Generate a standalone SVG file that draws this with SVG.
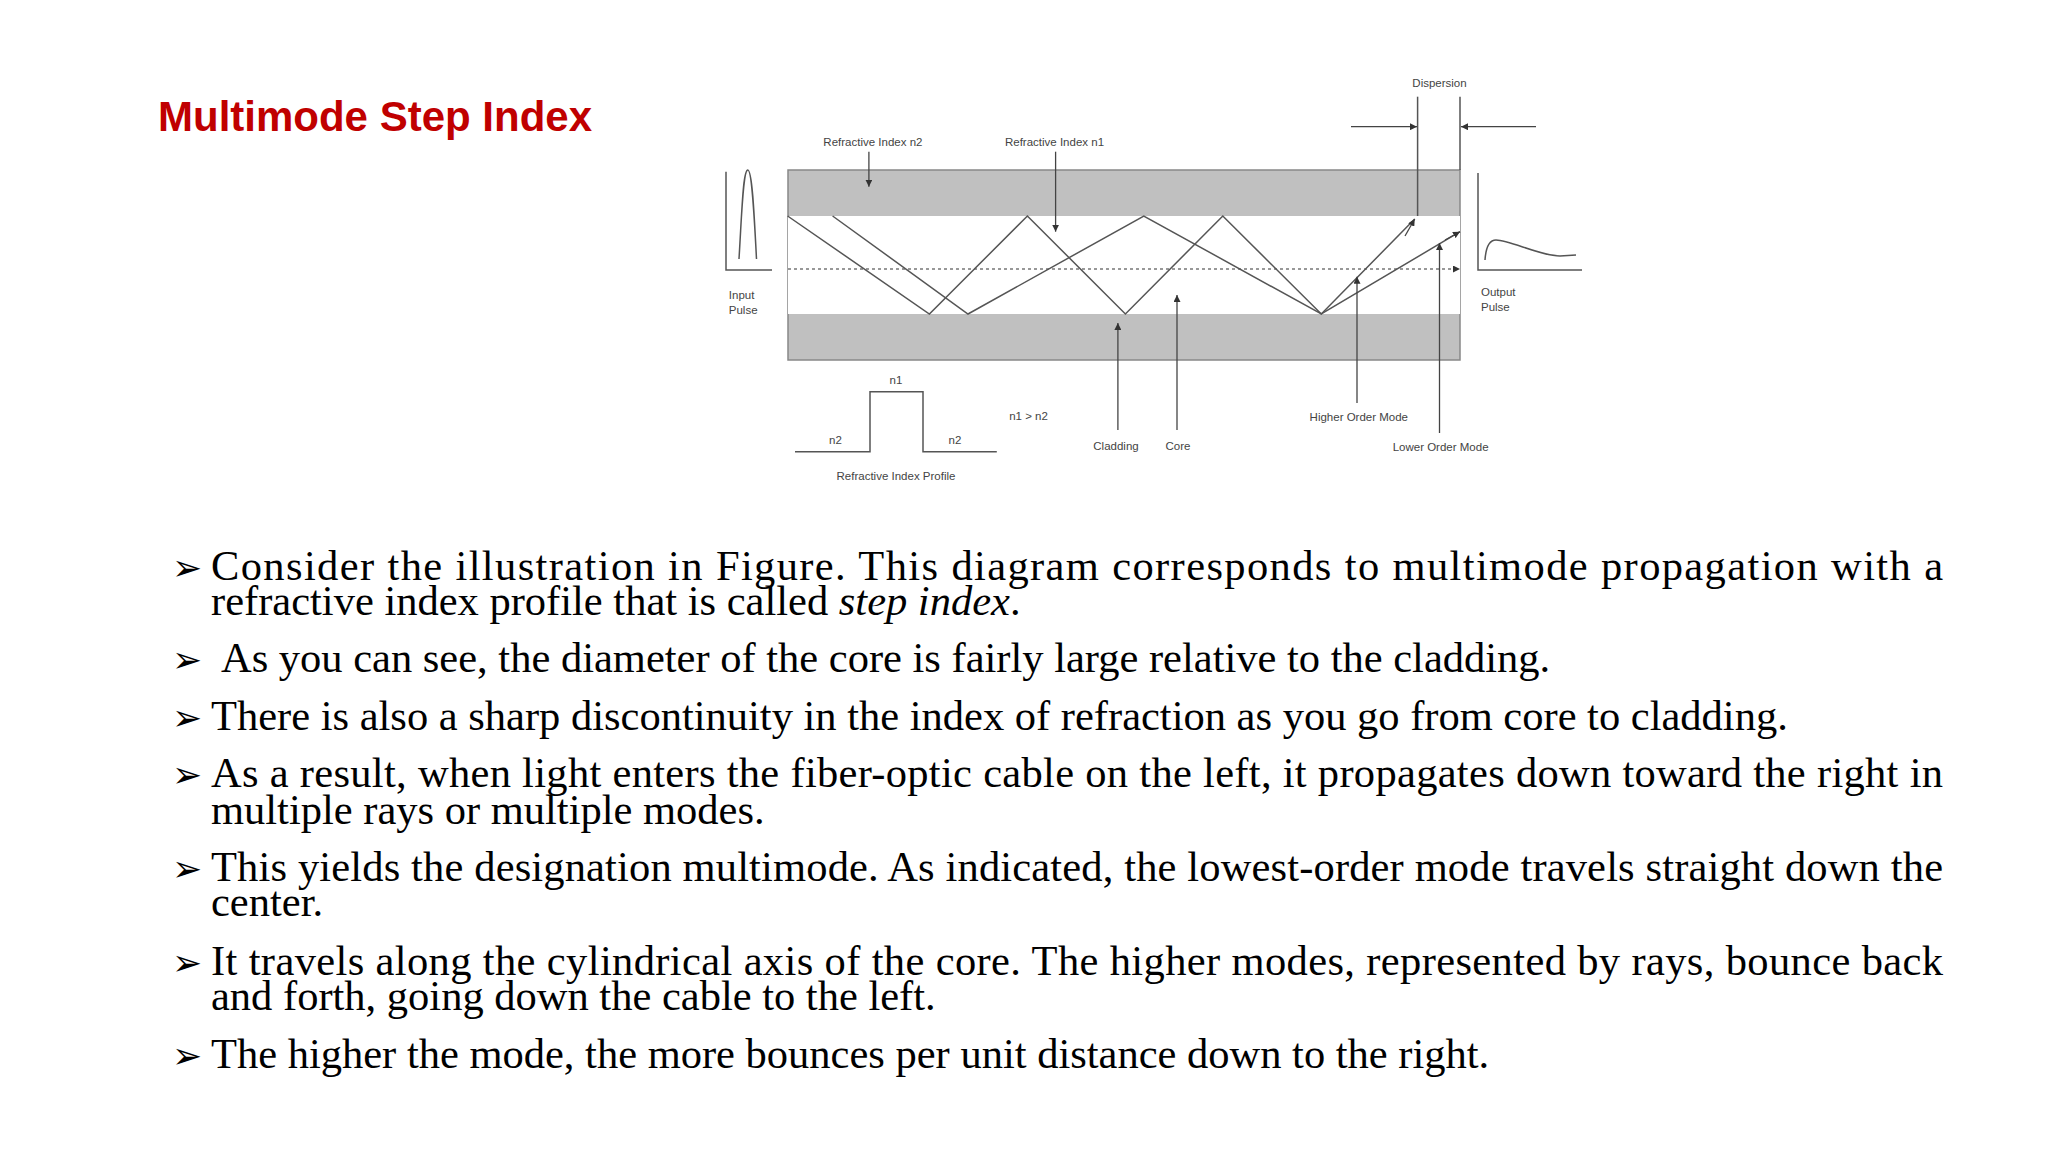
<svg xmlns="http://www.w3.org/2000/svg" width="2048" height="1152" viewBox="0 0 2048 1152">
<defs>
<marker id="ah" viewBox="0 0 10 10" refX="10" refY="5" markerWidth="7" markerHeight="7" markerUnits="userSpaceOnUse" orient="auto"><path d="M0,0 L10,5 L0,10 z" fill="#333"/></marker>
<style>
.lab{font-family:"Liberation Sans",Arial,sans-serif;font-size:11.5px;fill:#444;text-anchor:middle}
.lab2{font-family:"Liberation Sans",Arial,sans-serif;font-size:11.5px;fill:#444}
.ln{stroke:#555;stroke-width:1.5;fill:none}
.ar{stroke:#444;stroke-width:1.3;fill:none;marker-end:url(#ah)}
.body{font-family:"Liberation Serif","Times New Roman",serif;font-size:42.5px;fill:#000}
.bul{font-family:"DejaVu Sans",sans-serif;font-size:36px;font-weight:bold;fill:#000}
</style>
</defs>
<rect width="2048" height="1152" fill="#fff"/>
<text id="title" x="158" y="131" font-family="Liberation Sans,Arial,sans-serif" font-weight="bold" font-size="42" fill="#c00000">Multimode Step Index</text>
<g id="fiber">
<rect x="788" y="170" width="672" height="190" fill="#c0c0c0" stroke="#888" stroke-width="1.5"/>
<rect x="788" y="216" width="672" height="98" fill="#fff"/>
<line x1="788" y1="269" x2="1460" y2="269" stroke="#777" stroke-width="1.5" stroke-dasharray="3,3" marker-end="url(#ah)"/>
</g>
<g id="rays">
<polyline class="ln" points="787.6,216 929.4,314 1027.4,216 1125.4,314 1222.8,216 1321.3,314 1414.7,219"/>
<polyline class="ln" points="832.6,216 968,314 1143.8,216 1321.3,314 1460,231.7"/>
<line class="ar" x1="1405" y1="236" x2="1414.7" y2="219"/>
<line class="ar" x1="1445" y1="240" x2="1460" y2="231.7"/>
</g>
<g id="connectors">
<line class="ar" x1="868.9" y1="151.7" x2="868.9" y2="186.7"/>
<line class="ar" x1="1055.6" y1="151.7" x2="1055.6" y2="231.7"/>
<line class="ln" x1="1417.6" y1="96.7" x2="1417.6" y2="216"/>
<line class="ln" x1="1460" y1="96.7" x2="1460" y2="170"/>
<line class="ar" x1="1351" y1="126.7" x2="1417" y2="126.7"/>
<line class="ar" x1="1536" y1="126.7" x2="1461" y2="126.7"/>
<line class="ar" x1="1117.9" y1="430" x2="1117.9" y2="323"/>
<line class="ar" x1="1177" y1="430" x2="1177" y2="295"/>
<line class="ar" x1="1357" y1="403" x2="1357" y2="276.7"/>
<line class="ar" x1="1439.5" y1="433" x2="1439.5" y2="243"/>
</g>
<g id="input-pulse">
<polyline class="ln" points="726,171.7 726,270 772,270"/>
<path class="ln" d="M739,259 C742,210 743,170 747.8,170 C752,170 754,210 756.5,259"/>
<text class="lab2" x="728.8" y="299">Input</text>
<text class="lab2" x="728.8" y="314">Pulse</text>
</g>
<g id="output-pulse">
<polyline class="ln" points="1478,173 1478,270 1582,270"/>
<path class="ln" d="M1485,260 C1486,245 1490,240 1496,240 C1510,240 1540,256 1560,256 L1576,255"/>
<text class="lab2" x="1481" y="296">Output</text>
<text class="lab2" x="1481" y="311">Pulse</text>
</g>
<g id="profile">
<polyline class="ln" points="795,451.7 870,451.7 870,391.7 923,391.7 923,451.7 996.8,451.7"/>
<text class="lab" x="896" y="384">n1</text>
<text class="lab" x="835.4" y="444">n2</text>
<text class="lab" x="955" y="444">n2</text>
<text class="lab" x="896" y="480">Refractive Index Profile</text>
<text class="lab" x="1028.5" y="420">n1 &gt; n2</text>
</g>
<g id="labels">
<text class="lab" x="1439.5" y="87">Dispersion</text>
<text class="lab" x="872.9" y="146">Refractive Index n2</text>
<text class="lab" x="1054.5" y="146">Refractive Index n1</text>
<text class="lab" x="1116" y="450">Cladding</text>
<text class="lab" x="1178" y="450">Core</text>
<text class="lab" x="1358.8" y="421">Higher Order Mode</text>
<text class="lab" x="1440.6" y="451">Lower Order Mode</text>
</g>
<g id="bullets">
<text class="bul" x="172" y="580">➢</text>
<text class="bul" x="172" y="672">➢</text>
<text class="bul" x="172" y="730">➢</text>
<text class="bul" x="172" y="787">➢</text>
<text class="bul" x="172" y="881">➢</text>
<text class="bul" x="172" y="975">➢</text>
<text class="bul" x="172" y="1068">➢</text>
<text class="body" x="211" y="580" textLength="1732" lengthAdjust="spacing">Consider the illustration in Figure. This diagram corresponds to multimode propagation with a</text>
<text class="body" x="211" y="615">refractive index profile that is called <tspan font-style="italic">step index</tspan>.</text>
<text class="body" x="221" y="672">As you can see, the diameter of the core is fairly large relative to the cladding.</text>
<text class="body" x="211" y="730">There is also a sharp discontinuity in the index of refraction as you go from core to cladding.</text>
<text class="body" x="211" y="787" textLength="1732" lengthAdjust="spacing">As a result, when light enters the fiber-optic cable on the left, it propagates down toward the right in</text>
<text class="body" x="211" y="824">multiple rays or multiple modes.</text>
<text class="body" x="211" y="881" textLength="1732" lengthAdjust="spacing">This yields the designation multimode. As indicated, the lowest-order mode travels straight down the</text>
<text class="body" x="211" y="916">center.</text>
<text class="body" x="211" y="975" textLength="1732" lengthAdjust="spacing">It travels along the cylindrical axis of the core. The higher modes, represented by rays, bounce back</text>
<text class="body" x="211" y="1010">and forth, going down the cable to the left.</text>
<text class="body" x="211" y="1068">The higher the mode, the more bounces per unit distance down to the right.</text>
</g>
</svg>
